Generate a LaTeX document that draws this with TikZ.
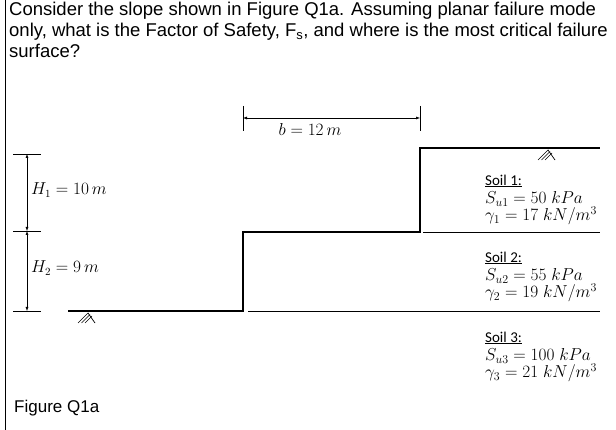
\documentclass[tikz,border=0pt]{standalone}
\usepackage{fontspec}
\setmainfont{Liberation Sans}
\newfontfamily\calib{Carlito}
\usetikzlibrary{arrows.meta}
\begin{document}
\begin{tikzpicture}[x=1pt,y=-1pt,
  ground/.style={line width=1.2pt},
  thin/.style={line width=0.5pt},
  dim/.style={line width=0.5pt,{Latex[length=4pt,width=3pt]}-{Latex[length=4pt,width=3pt]}},
  mathlab/.style={font=\fontsize{16}{18}\selectfont},
  lab/.style={anchor=west,inner sep=0pt,font=\calib\fontsize{15}{16}\selectfont},
  mlab/.style={anchor=west,inner sep=0pt,font=\fontsize{17}{18}\selectfont}]
\useasboundingbox (0,0) rectangle (616,430);
\draw[line width=0.6pt] (5,0) -- (5,430);
\node[anchor=north west,inner sep=0pt,align=left,font=\fontsize{18.5}{21}\selectfont] (title) at (9,2)
 {Consider the slope shown in Figure Q1a. Assuming planar failure mode\\only, what is the Factor of Safety, F\textsubscript{s}, and where is the most critical failure\\surface?};
% ground
\coordinate (g1) at (68,311); \coordinate (g2) at (243,311); \coordinate (g3) at (243,232);
\coordinate (g4) at (420,232); \coordinate (g5) at (420,148); \coordinate (g6) at (600,148);
\draw[ground] (g1) -- (g2) -- (g3) -- (g4) -- (g5) -- (g6);
\coordinate (s1a) at (423,232); \coordinate (s1b) at (600,232);
\coordinate (s2a) at (248,311); \coordinate (s2b) at (600,311);
\draw[thin] (s1a) -- (s1b); \draw[thin] (s2a) -- (s2b);
% hatches
\foreach \x/\y in {538/150,78/313}{
  \draw[line width=0.7pt] (\x,\y+10) -- (\x+10,\y) -- (\x+17,\y+10);
  \draw[line width=0.7pt] (\x+3.5,\y+10) -- (\x+12,\y+1.5);
  \draw[line width=0.7pt] (\x+7,\y+10) -- (\x+14,\y+3);
}
% H dims
\coordinate (t1) at (27,154); \coordinate (t2) at (27,231); \coordinate (t3) at (27,311);
\foreach \c in {t1,t2,t3}{\draw[line width=0.9pt] ([xshift=-14]\c) -- ([xshift=14]\c);}
\draw[dim] (t1) -- (t2); \draw[dim] (t2) -- (t3);
\node[mathlab,anchor=west,inner sep=0pt] (h1) at (31,190) {$H_1 = 10\,m$};
\node[mathlab,anchor=west,inner sep=0pt] (h2) at (31,268) {$H_2 = 9\,m$};
% b dim
\coordinate (b1) at (243,118); \coordinate (b2) at (420,118);
\draw[thin] (243,106) -- (243,131); \draw[thin] (420,106) -- (420,131);
\draw[dim] (b1) -- (b2);
\node[mathlab,inner sep=0pt] (bl) at (310,130) {$b = 12\,m$};
% soils
\node[lab] (soil1) at (485,181) {\underline{Soil 1:}};
\node[mlab] (su1) at (485,199) {$S_{u1} = 50\;kPa$};
\node[mlab] (g1t) at (485,216) {$\gamma_1 = 17\;kN/m^3$};
\node[lab] (soil2) at (485,258) {\underline{Soil 2:}};
\node[mlab] (su2) at (485,276) {$S_{u2} = 55\;kPa$};
\node[mlab] (g2t) at (485,293) {$\gamma_2 = 19\;kN/m^3$};
\node[lab] (soil3) at (485,338) {\underline{Soil 3:}};
\node[mlab] (su3) at (485,356) {$S_{u3} = 100\;kPa$};
\node[mlab] (g3t) at (485,373) {$\gamma_3 = 21\;kN/m^3$};
\node[anchor=west,inner sep=0pt,font=\fontsize{17}{18}\selectfont] (fig) at (14,408) {Figure Q1a};
\end{tikzpicture}
\end{document}
